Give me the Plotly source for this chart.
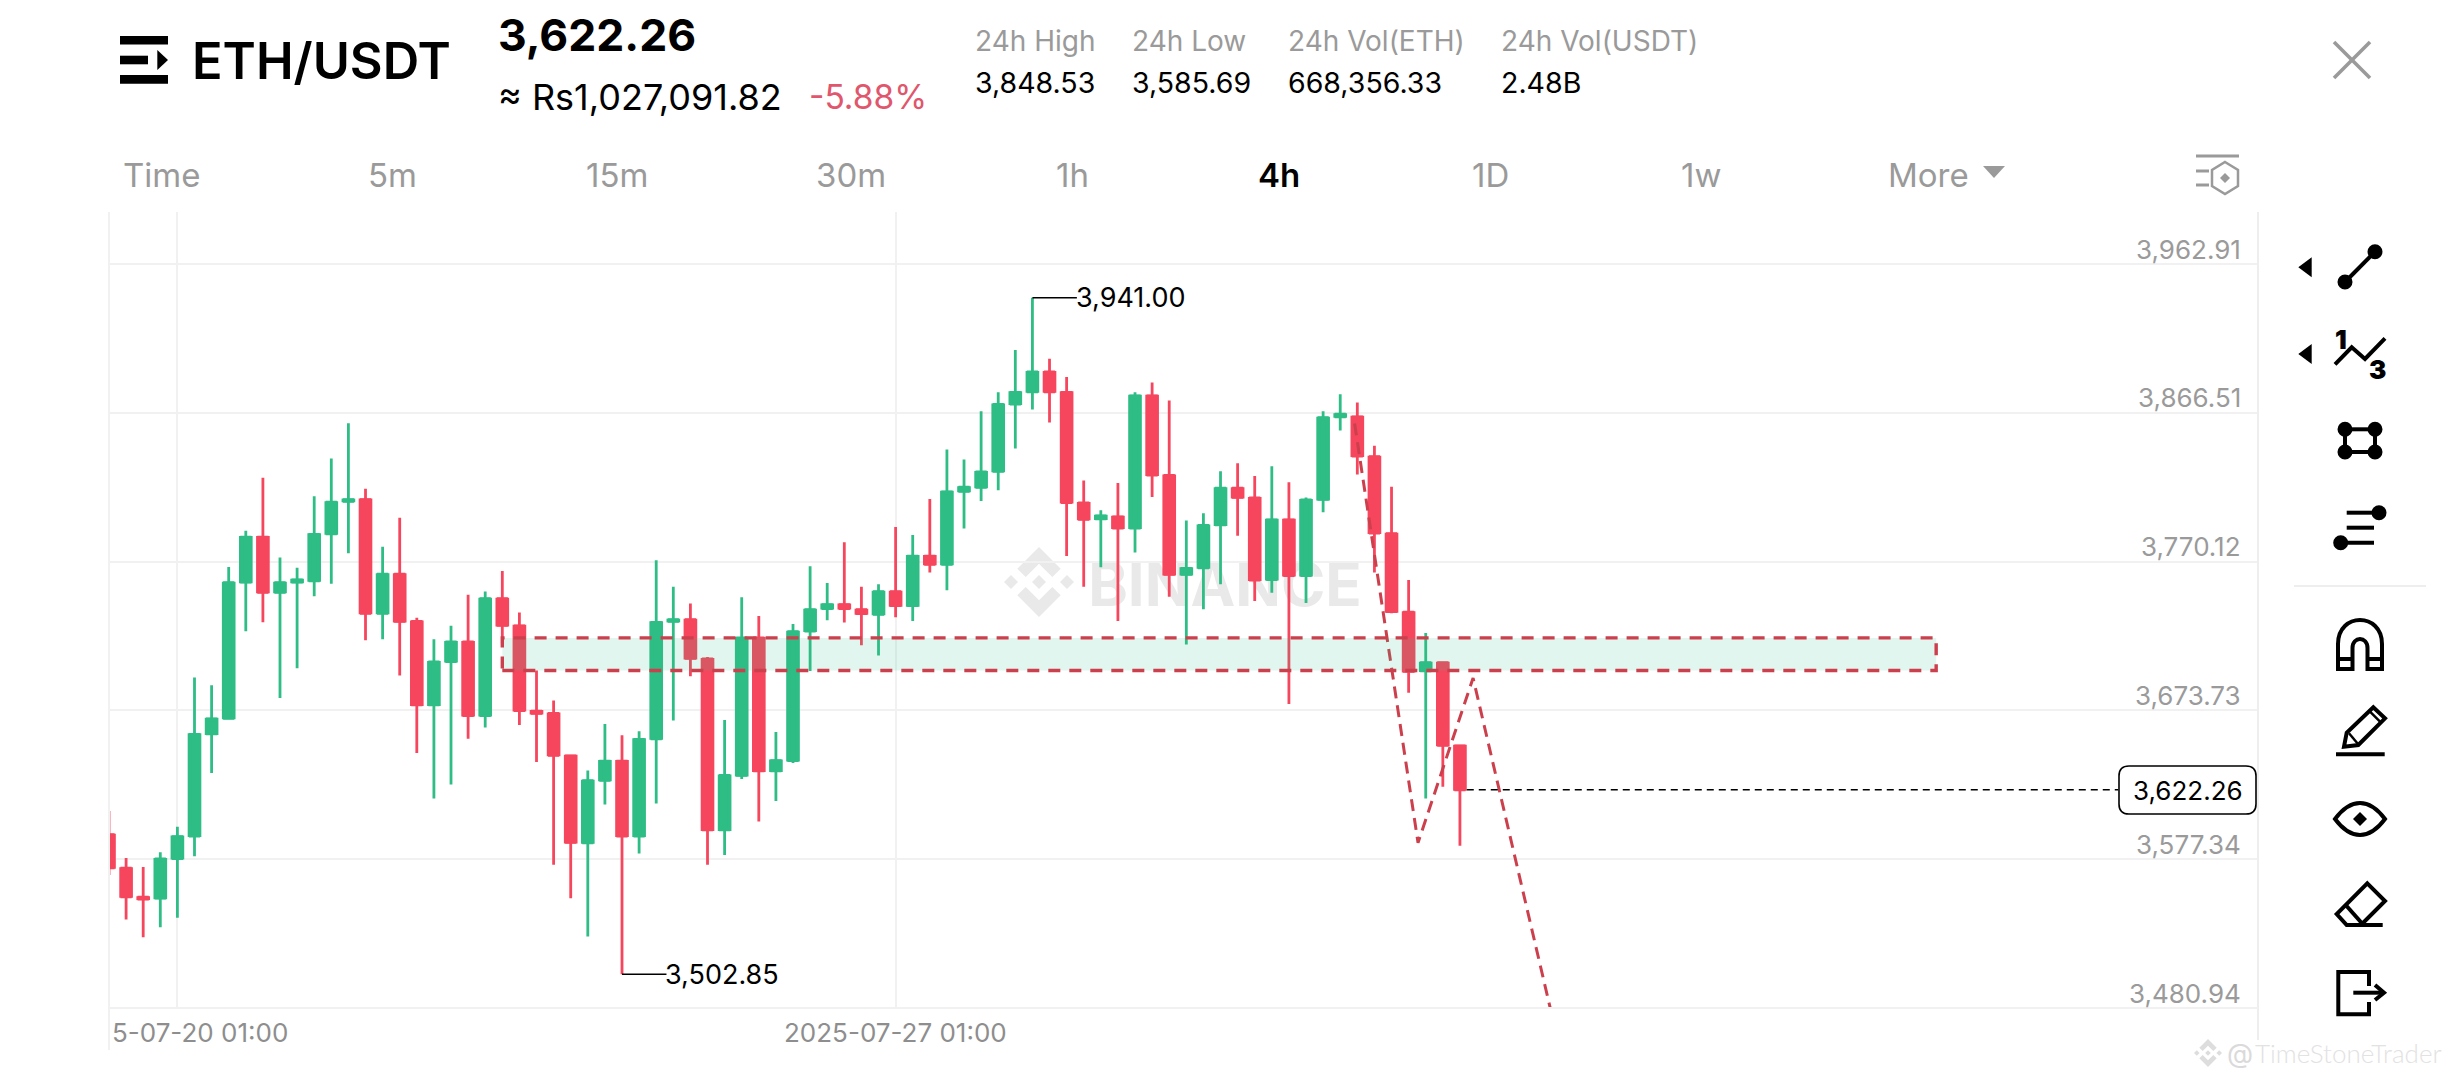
import plotly.graph_objects as go

W, H = 2460, 1080
GREEN = '#2EBD85'
RED = '#F6465D'
DASH_RED = '#CC3F4C'
GRID = '#F1F1F1'
GREY = '#9A9A9A'
FONT = 'Inter'

# candles, oldest first
opens = [3593.2, 3571.5, 3552.7, 3552.1, 3577.8, 3592.3, 3658.5, 3668.6, 3756.8, 3786.0,
         3750.2, 3756.8, 3757.7, 3788.1, 3809.2, 3810.3, 3736.6, 3762.0, 3731.4, 3677.3,
         3705.4, 3718.1, 3670.4, 3746.1, 3728.5, 3673.3, 3671.8, 3644.3, 3588.0, 3628.4,
         3640.9, 3592.3, 3655.3, 3731.4, 3732.5, 3707.1, 3596.3, 3631.6, 3720.7, 3634.5,
         3641.2, 3725.1, 3739.7, 3742.3, 3739.0, 3736.0, 3750.6, 3741.6, 3773.7, 3768.4,
         3815.7, 3818.3, 3828.6, 3872.2, 3880.1, 3893.0, 3879.8, 3808.1, 3797.8, 3799.1,
         3791.9, 3877.5, 3825.9, 3761.8, 3766.1, 3793.9, 3817.7, 3811.4, 3758.5, 3797.2,
         3761.1, 3810.4, 3863.9, 3863.9, 3838.1, 3788.2, 3737.3, 3699.3, 3704.6, 3650.8]
highs = [3608.5, 3578.1, 3572.3, 3581.9, 3598.4, 3695.0, 3690.0, 3766.7, 3790.1, 3824.5,
         3772.7, 3766.1, 3812.4, 3836.9, 3859.8, 3817.3, 3779.7, 3798.5, 3733.7, 3719.8,
         3728.5, 3748.7, 3750.8, 3764.1, 3737.2, 3699.6, 3680.2, 3644.3, 3634.8, 3664.9,
         3657.6, 3660.3, 3771.0, 3753.9, 3743.0, 3708.3, 3667.5, 3747.0, 3734.9, 3659.7,
         3729.7, 3767.1, 3756.2, 3782.6, 3753.9, 3755.5, 3792.5, 3787.3, 3810.7, 3842.8,
         3836.2, 3867.6, 3879.8, 3907.2, 3941.0, 3901.6, 3889.7, 3822.6, 3803.4, 3821.0,
         3879.8, 3886.1, 3874.5, 3796.8, 3801.5, 3828.6, 3833.9, 3825.6, 3831.9, 3821.6,
         3811.7, 3867.6, 3878.5, 3873.2, 3845.1, 3818.6, 3758.2, 3723.8, 3705.0, 3650.8]
lows = [3567.1, 3538.2, 3526.7, 3533.3, 3539.4, 3579.3, 3633.1, 3668.6, 3725.0, 3730.8,
        3681.7, 3701.0, 3747.6, 3755.7, 3775.6, 3719.2, 3719.8, 3696.4, 3646.1, 3616.6,
        3625.8, 3655.3, 3662.6, 3716.9, 3664.3, 3640.3, 3573.8, 3552.1, 3527.2, 3612.8,
        3502.85, 3581.0, 3613.4, 3667.2, 3695.8, 3573.8, 3580.1, 3629.3, 3601.8, 3615.1,
        3639.7, 3699.3, 3732.1, 3730.7, 3715.9, 3709.3, 3734.0, 3731.7, 3763.1, 3751.6,
        3791.5, 3809.4, 3816.3, 3843.4, 3868.6, 3860.3, 3773.7, 3753.9, 3766.4, 3731.7,
        3776.0, 3812.0, 3747.3, 3716.5, 3739.3, 3755.5, 3786.9, 3744.6, 3749.9, 3677.9,
        3743.3, 3802.1, 3855.0, 3826.6, 3763.1, 3736.7, 3685.1, 3616.7, 3624.3, 3586.0]
closes = [3571.8, 3553.0, 3551.5, 3577.5, 3592.0, 3658.2, 3668.3, 3756.5, 3786.0, 3750.2,
          3756.5, 3758.3, 3787.8, 3808.6, 3810.3, 3736.6, 3762.0, 3731.4, 3677.3, 3705.1,
          3718.1, 3670.4, 3746.1, 3728.8, 3673.6, 3671.8, 3644.6, 3588.2, 3628.2, 3640.9,
          3592.3, 3655.0, 3730.8, 3732.5, 3707.4, 3596.3, 3631.6, 3720.7, 3634.5, 3641.2,
          3724.7, 3739.0, 3742.3, 3739.7, 3736.4, 3750.6, 3741.6, 3773.7, 3768.4, 3815.3,
          3818.3, 3828.2, 3871.9, 3879.8, 3893.0, 3880.1, 3808.4, 3797.5, 3799.8, 3791.9,
          3877.5, 3826.2, 3761.8, 3765.8, 3793.5, 3817.7, 3811.7, 3758.2, 3797.2, 3761.1,
          3810.1, 3863.3, 3865.6, 3838.5, 3788.6, 3737.7, 3699.0, 3704.6, 3651.1, 3622.26]

price_ticks = [3962.91, 3866.51, 3770.12, 3673.73, 3577.34, 3480.94]
price_labels = ['3,962.91', '3,866.51', '3,770.12', '3,673.73', '3,577.34', '3,480.94']
time_ticks = [4, 46]
last_price = 3622.26
last_price_end = 117.5

# hand drawn stuff on the chart
zone_x = [23, 106.85]
zone_y = [3699.6, 3720.7]
path_x = [72.84, 76.55, 79.77, 84.3]
path_y = [3859.6, 3588.0, 3694.7, 3480.0]
high_idx, high_val, high_end = 54, 3941.0, 56.6
low_idx, low_val, low_end = 30, 3502.85, 32.6

tabs = ['Time', '5m', '15m', '30m', '1h', '4h', '1D', '1w', 'More']
tab_x = [161, 392, 617, 851, 1072, 1279, 1490, 1701, 1928]
stat_titles = ['24h High', '24h Low', '24h Vol(ETH)', '24h Vol(USDT)']
stat_values = ['3,848.53', '3,585.69', '668,356.33', '2.48B']
stat_x = [974, 1131, 1287, 1500]


def fx(x):
    return x / W


def fy(y):
    return 1 - y / H


def path(cmds):
    # cmds like [('M', 10, 20), ('L', 30, 40), ('Z',)] in screen pixels
    out = ''
    for c in cmds:
        out += c[0]
        for i in range(1, len(c), 2):
            out += f'{fx(c[i]):.6f},{fy(c[i + 1]):.6f} '
    return out


shapes = []
annots = []


def line(x0, y0, x1, y1, color='#000000', width=4):
    shapes.append(dict(type='line', xref='paper', yref='paper', x0=fx(x0), y0=fy(y0), x1=fx(x1), y1=fy(y1),
                       line=dict(color=color, width=width)))


def dot(x, y, r=7.5, color='#000000'):
    shapes.append(dict(type='circle', xref='paper', yref='paper', x0=fx(x - r), x1=fx(x + r), y0=fy(y + r), y1=fy(y - r),
                       fillcolor=color, line=dict(width=0)))


def poly(pts, fill=None, color='#000000', width=4, layer='above'):
    cmds = [('M', *pts[0])] + [('L', *p) for p in pts[1:]] + [('Z',)]
    shapes.append(dict(type='path', xref='paper', yref='paper', path=path(cmds), layer=layer,
                       fillcolor=fill or 'rgba(0,0,0,0)', line=dict(color=color, width=width)))


def curve(cmds, color='#000000', width=4):
    shapes.append(dict(type='path', xref='paper', yref='paper', path=path(cmds),
                       line=dict(color=color, width=width)))


def txt(x, y, s, size, color='#000000', anchor='left', weight=400, family=FONT, **kw):
    annots.append(dict(xref='paper', yref='paper', x=fx(x), y=fy(y), text=s, showarrow=False, xanchor=anchor,
                       yanchor='middle', borderpad=0, font=dict(family=family, size=size, color=color, weight=weight), **kw))


def logo(cx, cy, r, color, layer):
    # binance diamond
    for dx in (-0.8, 0, 0.8):
        poly([(cx + (dx - 0.2) * r, cy), (cx + dx * r, cy - 0.2 * r), (cx + (dx + 0.2) * r, cy), (cx + dx * r, cy + 0.2 * r)],
             fill=color, color=color, width=0, layer=layer)
    for s in (-1, 1):
        poly([(cx, cy + s * r), (cx + 0.62 * r, cy + s * 0.38 * r), (cx + 0.38 * r, cy + s * 0.14 * r), (cx, cy + s * 0.52 * r),
              (cx - 0.38 * r, cy + s * 0.14 * r), (cx - 0.62 * r, cy + s * 0.38 * r)],
             fill=color, color=color, width=0, layer=layer)


# watermark sits under the candles
logo(1039, 582, 35, '#E9E9E9', 'below')
shapes.append(dict(type='rect', xref='paper', yref='paper', x0=fx(1080), x1=fx(1370), y0=fy(612), y1=fy(552), layer='below',
                   fillcolor='rgba(0,0,0,0)', line=dict(width=0),
                   label=dict(text='BINANCE', textposition='middle center',
                              font=dict(family=FONT, size=60, color='#E9E9E9', weight=700))))

# zone on the chart
shapes.append(dict(type='rect', xref='x', yref='y', x0=zone_x[0], x1=zone_x[1], y0=zone_y[0], y1=zone_y[1], layer='above',
                   fillcolor='rgba(46,189,133,0.14)', line=dict(color=DASH_RED, width=3.4, dash='12px,9px')))

# axis frame lines
line(109, 212, 109, 1050, GRID, 2)
line(2258, 212, 2258, 1040, '#EEEEEE', 2)
line(109, 1008, 2258, 1008, GRID, 2)

# price labels above their grid lines
for v, s in zip(price_ticks, price_labels):
    annots.append(dict(xref='paper', yref='y', x=fx(2243), y=v, yshift=15, text=s, showarrow=False, xanchor='right', yanchor='middle',
                       font=dict(family=FONT, size=26, color=GREY)))
txt(111, 1032, '5-07-20 01:00', 26, '#8E8E8E')
txt(895, 1032, '2025-07-27 01:00', 26, '#8E8E8E', anchor='center')

# current price tag
curve([('M', 2129, 766), ('L', 2246, 766), ('Q', 2256, 766, 2256, 776), ('L', 2256, 804), ('Q', 2256, 814, 2246, 814),
       ('L', 2129, 814), ('Q', 2119, 814, 2119, 804), ('L', 2119, 776), ('Q', 2119, 766, 2129, 766), ('Z',)], width=1.6)
shapes[-1]['fillcolor'] = '#FFFFFF'
txt(2188, 790, f'{last_price:,.2f}', 26, anchor='center')

# high / low labels
annots.append(dict(xref='x', yref='y', x=high_end, y=high_val, xshift=-3, text=f'{high_val:,.2f}', showarrow=False, xanchor='left', yanchor='middle',
                   font=dict(family=FONT, size=27, color='#000000')))
annots.append(dict(xref='x', yref='y', x=low_end, y=low_val, xshift=-3, text=f'{low_val:,.2f}', showarrow=False, xanchor='left', yanchor='middle',
                   font=dict(family=FONT, size=27, color='#000000')))

# header
for y0, y1, x1 in [(36, 44.5, 168), (55.7, 64.3, 148), (75, 83.7, 168)]:
    shapes.append(dict(type='rect', xref='paper', yref='paper', x0=fx(120), x1=fx(x1), y0=fy(y1), y1=fy(y0), fillcolor='#000000', line=dict(width=0)))
poly([(157.3, 50), (168, 60), (157.3, 70)], fill='#000000', width=0)
txt(191, 61, 'ETH/USDT', 50.5, weight=600)
txt(497, 35, '3,622.26', 44.5, weight=700)
txt(497, 97, '≈ Rs1,027,091.82', 36)
txt(808, 97, '-5.88%', 33.5, '#E0566C')
for x, a, b in zip(stat_x, stat_titles, stat_values):
    txt(x, 41, a, 28, GREY)
    txt(x, 83, b, 28.5)
line(2334, 42, 2370, 78, GREY, 3.5)
line(2370, 42, 2334, 78, GREY, 3.5)

# tab row
for x, t in zip(tab_x, tabs):
    active = t == '4h'
    txt(x, 175, t, 33, '#000000' if active else GREY, anchor='center', weight=600 if active else 400)
poly([(1983, 166), (2005, 166), (1994, 178)], fill=GREY, color=GREY, width=0)
line(2196, 156, 2239, 156, GREY, 3)
line(2196, 171, 2209, 171, GREY, 3)
line(2196, 185, 2209, 185, GREY, 3)
poly([(2225, 162), (2238, 170), (2238, 186), (2225, 194), (2212, 186), (2212, 170)], color=GREY, width=2.5)
poly([(2225, 173), (2230, 178), (2225, 183), (2220, 178)], fill=GREY, color=GREY, width=0)

# right toolbar
line(2294, 586, 2426, 586, '#EEEEEE', 2)
poly([(2311.7, 257.3), (2311.7, 277.3), (2298.3, 267.3)], fill='#000000', width=0)
line(2345, 282, 2375, 251.7)
dot(2345, 282)
dot(2375, 251.7)

poly([(2311.7, 344), (2311.7, 364), (2298.3, 354)], fill='#000000', width=0)
curve([('M', 2335, 364.3), ('L', 2351.7, 347.3), ('L', 2365, 359), ('L', 2385, 338.3)])
txt(2341, 339, '1', 26, anchor='center', weight=900)
txt(2377, 369, '3', 26, anchor='center', weight=900)

for x0, y0, x1, y1 in [(2345, 429.3, 2375, 429.3), (2375, 429.3, 2375, 452), (2375, 452, 2345, 452), (2345, 452, 2345, 429.3)]:
    line(x0, y0, x1, y1)
    dot(x0, y0)

line(2346.7, 512.7, 2378, 512.7)
dot(2379, 512.7)
line(2346.7, 527.7, 2374, 527.7)
line(2340.7, 542.7, 2374, 542.7)
dot(2340.7, 542.7)

# magnet
curve([('M', 2338, 669), ('L', 2338, 644), ('C', 2338, 612, 2382, 612, 2382, 644), ('L', 2382, 669), ('L', 2367.5, 669),
       ('L', 2367.5, 648), ('C', 2367.5, 636, 2352.5, 636, 2352.5, 648), ('L', 2352.5, 669), ('Z',)])
line(2338, 659, 2352.5, 659)
line(2367.5, 659, 2382, 659)
# pencil
line(2336, 754.3, 2384.7, 754.3)
poly([(2344, 746.7), (2346.7, 732.7), (2373.3, 707.3), (2385, 718.3), (2358.3, 745)])
line(2349, 733.3, 2358, 744, width=2.5)
line(2370, 711.7, 2380, 721.7, width=2.5)
# eye
curve([('M', 2335, 819), ('Q', 2347, 803, 2360, 803), ('Q', 2373, 803, 2385, 819), ('Q', 2373, 835, 2360, 835),
       ('Q', 2347, 835, 2335, 819), ('Z',)])
poly([(2360, 812), (2367, 819), (2360, 826), (2353, 819)], fill='#000000', width=0)
# eraser
poly([(2367.3, 883.3), (2385, 901), (2361, 925), (2346.7, 925), (2336.7, 914)])
line(2345.7, 905, 2361.7, 923)
line(2346.7, 925, 2382.7, 925)
# exit
curve([('M', 2369, 986), ('L', 2369, 972), ('L', 2338.3, 972), ('L', 2338.3, 1014.3), ('L', 2369, 1014.3), ('L', 2369, 1002)])
line(2353.3, 992.7, 2383, 992.7)
curve([('M', 2375, 985), ('L', 2384, 992.7), ('L', 2375, 1000)])

# bottom corner tag
logo(2208, 1053, 14, '#DDDDDD', 'above')
txt(2226, 1053, '@', 27, '#DADADA')
txt(2254, 1053, 'TimeStoneTrader', 26, '#E2E2E2', family='Lato', weight=300)

idx = list(range(len(opens)))
body_colors = [GREEN if c >= o else RED for o, c in zip(opens, closes)]

fig = go.Figure()
# plotly candle boxes come out too thin, so the wide bodies are bars on top of the wicks
fig.add_trace(go.Bar(x=idx, base=[min(o, c) for o, c in zip(opens, closes)], y=[abs(c - o) for o, c in zip(opens, closes)],
                     width=0.68, marker=dict(color=body_colors, line=dict(color=body_colors, width=2)),
                     hoverinfo='skip', showlegend=False))
fig.add_trace(go.Candlestick(
    x=idx, open=opens, high=highs, low=lows, close=closes,
    increasing=dict(line=dict(color=GREEN, width=2.8), fillcolor=GREEN),
    decreasing=dict(line=dict(color=RED, width=2.8), fillcolor=RED),
    whiskerwidth=0, hoverinfo='skip', showlegend=False,
))
fig.add_trace(go.Scatter(x=path_x, y=path_y, mode='lines', line=dict(color=DASH_RED, width=3, dash='12px,7px'),
                         hoverinfo='skip', showlegend=False))
fig.add_trace(go.Scatter(x=[len(opens) - 1 + 0.4, last_price_end], y=[last_price, last_price], mode='lines',
                         line=dict(color='#000000', width=1.5, dash='7px,5px'), hoverinfo='skip', showlegend=False))
fig.add_trace(go.Scatter(x=[high_idx, high_end], y=[high_val, high_val], mode='lines', line=dict(color='#000000', width=1.5),
                         hoverinfo='skip', showlegend=False))
fig.add_trace(go.Scatter(x=[low_idx, low_end], y=[low_val, low_val], mode='lines', line=dict(color='#000000', width=1.5),
                         hoverinfo='skip', showlegend=False))

fig.update_layout(
    width=W, height=H, margin=dict(l=0, r=0, t=0, b=0),
    paper_bgcolor='#FFFFFF', plot_bgcolor='rgba(0,0,0,0)', showlegend=False, barmode='overlay',
    shapes=shapes, annotations=annots,
    xaxis=dict(domain=[fx(109), fx(2258)], range=[0, 125.67], tickvals=time_ticks, showticklabels=False, ticks='',
               showgrid=True, gridcolor=GRID, gridwidth=2, zeroline=False, rangeslider=dict(visible=False), fixedrange=True),
    yaxis=dict(domain=[fy(1008), fy(212)], range=[3480.94, 3996.6], tickvals=price_ticks, showticklabels=False, ticks='',
               showgrid=True, gridcolor=GRID, gridwidth=2, zeroline=False, fixedrange=True),
)

fig.write_html('out.html', config=dict(displayModeBar=False),
               post_script="document.body.style.margin='0';")
